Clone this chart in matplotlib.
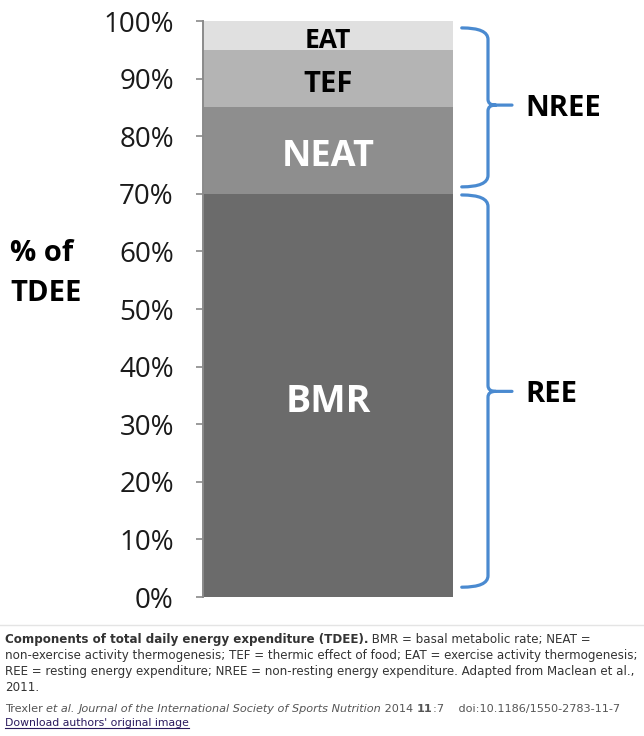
import numpy as np
import matplotlib.pyplot as plt
from matplotlib.path import Path
from matplotlib.patches import PathPatch
from matplotlib.lines import Line2D
import matplotlib.transforms as mtransforms

# Components of TDEE (percent of total)
components = ["BMR", "NEAT", "TEF", "EAT"]
shares = [70, 15, 10, 5]
seg_colors = ["#6b6b6b", "#8e8e8e", "#b4b4b4", "#e0e0e0"]
label_colors = ["white", "white", "black", "black"]
label_sizes = [27, 26, 21, 19]

# braces: (label, bottom %, top %, middle %)
groups = ["NREE", "REE"]
brace_low = [71.2, 1.7]
brace_high = [98.8, 69.8]
brace_mid = [85.4, 35.7]

yticks = list(range(0, 101, 10))
ytick_labels = [f"{t}%" for t in yticks]

W, H = 644, 736
fig = plt.figure(figsize=(W / 100, H / 100), dpi=100)
ax = fig.add_axes([203 / W, 1 - 597 / H, 250 / W, 576 / H])


def cap_center(fs, extra_px=0):
    # shift a baseline-anchored label so its capitals sit centred on y
    return mtransforms.ScaledTranslation(0, -(0.357 * fs / 72 + extra_px / 100), fig.dpi_scale_trans)


bottom = 0
for name, val, col, lc, fs in zip(components, shares, seg_colors, label_colors, label_sizes):
    ax.bar(0.5, val, width=1.0, bottom=bottom, color=col, edgecolor="none")
    ax.text(0.5, bottom + val / 2, name, ha="center", va="baseline",
            transform=ax.transData + cap_center(fs, 3),
            color=lc, fontsize=fs, fontweight="bold", family="Open Sans")
    bottom += val

ax.set_xlim(0, 1)
ax.set_ylim(0, 100)
ax.set_xticks([])
ax.set_yticks(yticks)
ax.set_yticklabels(ytick_labels, family="Open Sans", fontsize=20, color="#1a1a1a")
ax.tick_params(axis="y", length=5, width=1.2, color="#8a8a8a", pad=16)
for s in ["top", "right", "bottom"]:
    ax.spines[s].set_visible(False)
ax.spines["left"].set_color("#8a8a8a")
ax.spines["left"].set_linewidth(1.4)

# curly braces to the right of the bar
trans = mtransforms.blended_transform_factory(ax.transAxes, ax.transData)
x0, xv, xt = 1.035, 1.14, 1.236
r = 2.0
rm = 1.0
for name, lo, hi, mid in zip(groups, brace_low, brace_high, brace_mid):
    verts = [(x0, hi), (xv, hi), (xv, hi - r),
             (xv, mid + rm), (xv, mid), (xv + 0.03, mid),
             (xt, mid),
             (xv + 0.03, mid), (xv, mid), (xv, mid - rm),
             (xv, lo + r), (xv, lo), (x0, lo)]
    codes = [Path.MOVETO, Path.CURVE3, Path.CURVE3,
             Path.LINETO, Path.CURVE3, Path.CURVE3,
             Path.LINETO,
             Path.MOVETO, Path.CURVE3, Path.CURVE3,
             Path.LINETO, Path.CURVE3, Path.CURVE3]
    ax.add_patch(PathPatch(Path(verts, codes), transform=trans, fill=False,
                           edgecolor="#4a8ad0", linewidth=2.3, clip_on=False,
                           capstyle="round", joinstyle="round"))
    ax.text(1.29, mid, name, transform=trans + cap_center(21), ha="left", va="baseline",
            fontsize=21, fontweight="bold", family="Open Sans")

fig.text(10 / W, 1 - 274 / H, "% of\nTDEE", ha="left", va="center",
         fontsize=21, fontweight="bold", family="Open Sans", linespacing=1.5)

# caption area
fig.add_artist(Line2D([0, 1], [1 - 625 / H, 1 - 625 / H], transform=fig.transFigure,
                      color="#e4e4e4", linewidth=1))

renderer = fig.canvas.get_renderer()


def runs(x, y, parts, size=8.6, color="#333333"):
    # draw text pieces one after another on one line
    for txt, kw in parts:
        t = fig.text(x / W, 1 - y / H, txt, fontsize=size, color=color,
                     family="DejaVu Sans", va="baseline", **kw)
        bb = t.get_window_extent(renderer)
        x += bb.width
    return x


runs(5, 643, [("Components of total daily energy expenditure (TDEE).", {"fontweight": "bold"}),
              (" BMR = basal metabolic rate; NEAT =", {})])
runs(5, 659, [("non-exercise activity thermogenesis; TEF = thermic effect of food; EAT = exercise activity thermogenesis;", {})])
runs(5, 675, [("REE = resting energy expenditure; NREE = non-resting energy expenditure. Adapted from Maclean et al.,", {})])
runs(5, 691, [("2011.", {})])
runs(5, 712, [("Trexler ", {}), ("et al.", {"style": "italic"}), (" ", {}),
              ("Journal of the International Society of Sports Nutrition", {"style": "italic"}),
              (" 2014 ", {}), ("11", {"fontweight": "bold"}),
              (":7    doi:10.1186/1550-2783-11-7", {})], size=8.1, color="#555555")
xe = runs(5, 726, [("Download authors' original image", {})], size=7.8, color="#2a1a5e")
fig.add_artist(Line2D([5 / W, xe / W], [1 - 728 / H, 1 - 728 / H], transform=fig.transFigure,
                      color="#2a1a5e", linewidth=0.8))

fig.savefig("out.png", dpi=100)
